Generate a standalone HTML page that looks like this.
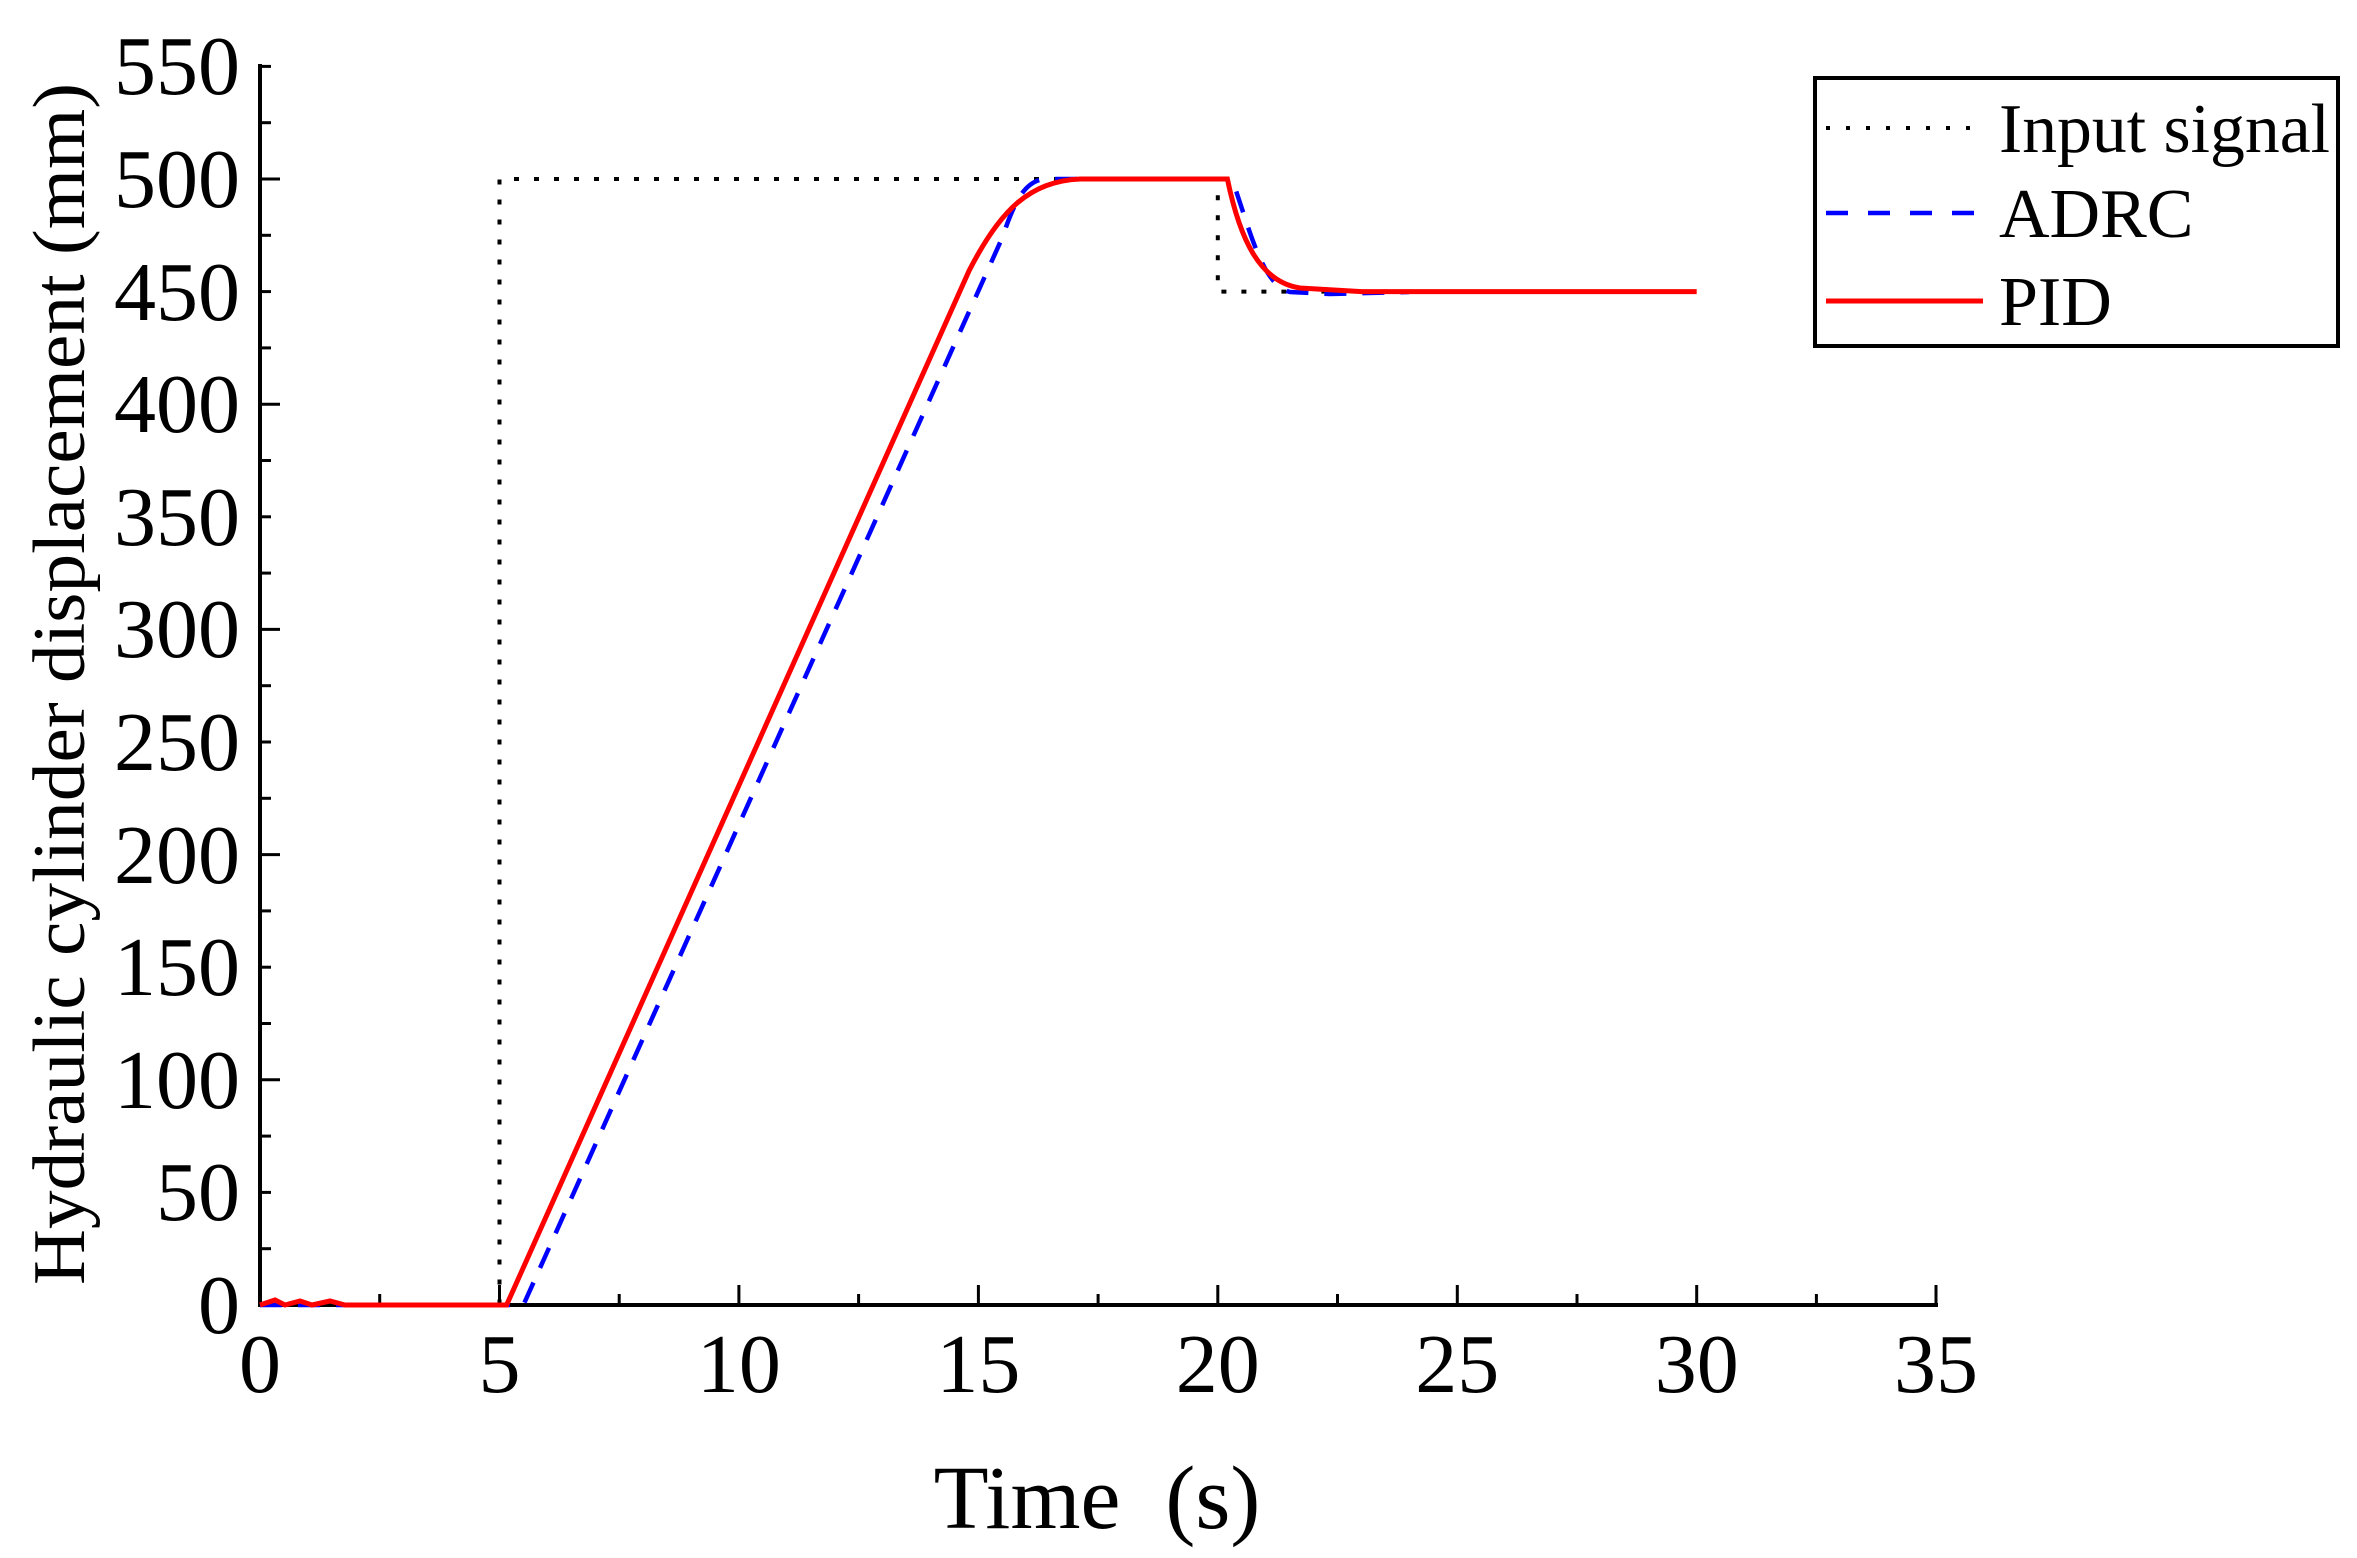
<!DOCTYPE html>
<html><head><meta charset="utf-8"><style>
html,body{margin:0;padding:0;background:#fff;}
svg{display:block;}
text{font-family:"Liberation Serif",serif;fill:#000;}
</style></head><body>
<svg width="2357" height="1558" viewBox="0 0 2357 1558" xmlns="http://www.w3.org/2000/svg">
<rect width="2357" height="1558" fill="#fff"/>
<g stroke="#000" stroke-width="4" fill="none">
<line x1="260" y1="64" x2="260" y2="1307"/>
<line x1="258" y1="1305" x2="1938" y2="1305"/>
</g>
<g stroke="#000" stroke-width="3">
<line x1="499.5" y1="1305" x2="499.5" y2="1285"/>
<line x1="738.9" y1="1305" x2="738.9" y2="1285"/>
<line x1="978.4" y1="1305" x2="978.4" y2="1285"/>
<line x1="1217.8" y1="1305" x2="1217.8" y2="1285"/>
<line x1="1457.3" y1="1305" x2="1457.3" y2="1285"/>
<line x1="1696.7" y1="1305" x2="1696.7" y2="1285"/>
<line x1="1936" y1="1305" x2="1936" y2="1285"/>
<line x1="379.7" y1="1305" x2="379.7" y2="1294"/>
<line x1="619.2" y1="1305" x2="619.2" y2="1294"/>
<line x1="858.6" y1="1305" x2="858.6" y2="1294"/>
<line x1="1098.1" y1="1305" x2="1098.1" y2="1294"/>
<line x1="1337.5" y1="1305" x2="1337.5" y2="1294"/>
<line x1="1577" y1="1305" x2="1577" y2="1294"/>
<line x1="1816.4" y1="1305" x2="1816.4" y2="1294"/>
</g>
<g stroke="#000" stroke-width="3">
<line x1="260" y1="1192.4" x2="271" y2="1192.4"/><line x1="260" y1="1079.8" x2="280" y2="1079.8"/>
<line x1="260" y1="967.2" x2="271" y2="967.2"/><line x1="260" y1="854.6" x2="280" y2="854.6"/>
<line x1="260" y1="742" x2="271" y2="742"/><line x1="260" y1="629.4" x2="280" y2="629.4"/>
<line x1="260" y1="516.8" x2="271" y2="516.8"/><line x1="260" y1="404.2" x2="280" y2="404.2"/>
<line x1="260" y1="291.6" x2="271" y2="291.6"/><line x1="260" y1="179" x2="280" y2="179"/>
<line x1="260" y1="66.4" x2="271" y2="66.4"/>
<line x1="260" y1="1248.7" x2="271" y2="1248.7"/><line x1="260" y1="1136.1" x2="271" y2="1136.1"/>
<line x1="260" y1="1023.5" x2="271" y2="1023.5"/><line x1="260" y1="910.9" x2="271" y2="910.9"/>
<line x1="260" y1="798.3" x2="271" y2="798.3"/><line x1="260" y1="685.7" x2="271" y2="685.7"/>
<line x1="260" y1="573.1" x2="271" y2="573.1"/><line x1="260" y1="460.5" x2="271" y2="460.5"/>
<line x1="260" y1="347.9" x2="271" y2="347.9"/><line x1="260" y1="235.3" x2="271" y2="235.3"/>
<line x1="260" y1="122.7" x2="271" y2="122.7"/>
</g>
<g font-size="84" text-anchor="end">
<text x="240" y="1333">0</text>
<text x="240" y="1220">50</text>
<text x="240" y="1108">100</text>
<text x="240" y="995">150</text>
<text x="240" y="883">200</text>
<text x="240" y="770">250</text>
<text x="240" y="657">300</text>
<text x="240" y="545">350</text>
<text x="240" y="432">400</text>
<text x="240" y="320">450</text>
<text x="240" y="207">500</text>
<text x="240" y="94">550</text>
</g>
<g font-size="84" text-anchor="middle">
<text x="260" y="1392">0</text>
<text x="499.5" y="1392">5</text>
<text x="738.9" y="1392">10</text>
<text x="978.4" y="1392">15</text>
<text x="1217.8" y="1392">20</text>
<text x="1457.3" y="1392">25</text>
<text x="1696.7" y="1392">30</text>
<text x="1936" y="1392">35</text>
</g>
<text x="1097" y="1528" font-size="90" text-anchor="middle" xml:space="preserve">Time  (s)</text>
<text transform="translate(84,684) rotate(-90)" font-size="74" text-anchor="middle" textLength="1202" lengthAdjust="spacingAndGlyphs">Hydraulic cylinder displacement (mm)</text>
<path d="M260,1305 L499.5,1305 L499.5,179 L1217.8,179 L1217.8,291.6 L1696.7,291.6" fill="none" stroke="#000" stroke-width="4" stroke-dasharray="5 15"/>
<path d="M260,1305 L523.4,1305 L1002.3,237.6 C1015,200 1025,181 1045,179 L1232,179 C1250,230 1262,285 1290,292 L1330,294 L1409,292" fill="none" stroke="#0000ff" stroke-width="4.5" stroke-dasharray="22 16"/>
<path d="M260,1305 L275,1300 L285,1305 L300,1301 L312,1305 L330,1301 L345,1305 L506.6,1305 L968.8,271.3 C1000,210 1030,181 1080,179 L1227.4,179 C1240,240 1260,282 1300,288 L1361.5,291.6 L1696.7,291.6" fill="none" stroke="#ff0000" stroke-width="5"/>
<rect x="1815" y="78" width="523" height="268" fill="#fff" stroke="#000" stroke-width="4"/>
<line x1="1826" y1="128" x2="1981" y2="128" stroke="#000" stroke-width="4" stroke-dasharray="4 16"/>
<line x1="1826" y1="213" x2="1981" y2="213" stroke="#0000ff" stroke-width="4.5" stroke-dasharray="22 20"/>
<line x1="1826" y1="301" x2="1983" y2="301" stroke="#ff0000" stroke-width="5"/>
<g font-size="70">
<text x="1999" y="152" textLength="331" lengthAdjust="spacingAndGlyphs">Input signal</text>
<text x="1999" y="237">ADRC</text>
<text x="1999" y="325">PID</text>
</g>
</svg>
</body></html>
